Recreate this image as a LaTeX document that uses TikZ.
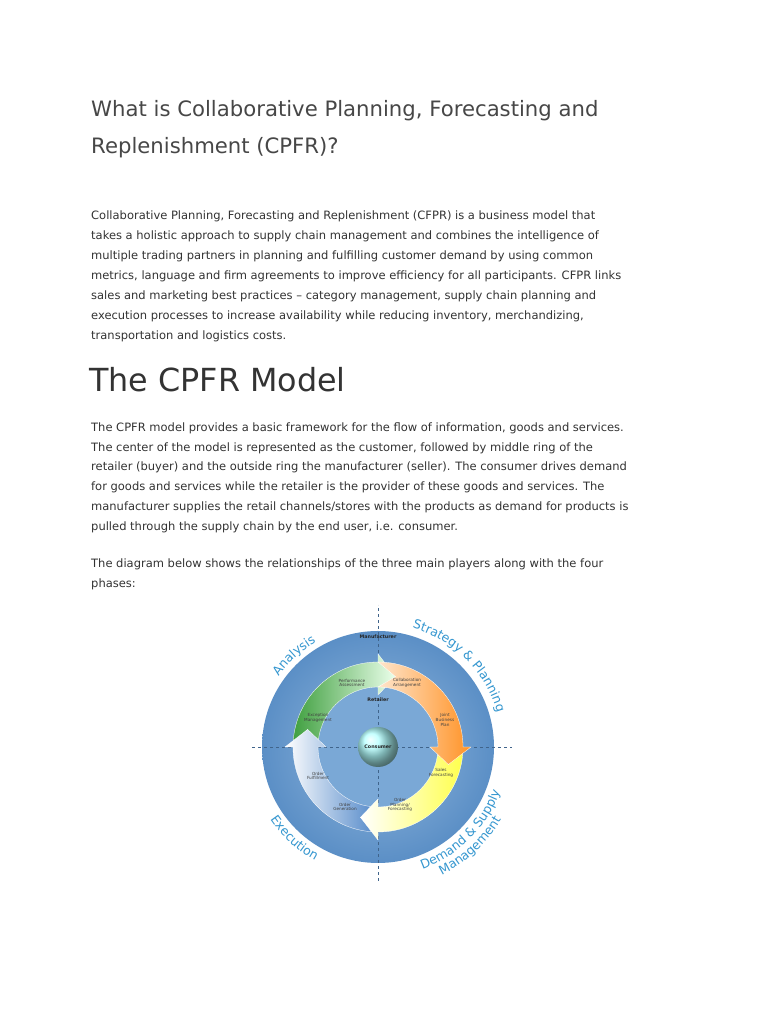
\documentclass[tikz,border=0pt]{standalone}
\usepackage{fontspec}
\setmainfont{DejaVu Sans}
\usetikzlibrary{decorations.text}
\definecolor{txt}{HTML}{333333}
\definecolor{outerb}{HTML}{5B8FC6}
\definecolor{innerb}{HTML}{7AA8D6}
\definecolor{lbl}{HTML}{3597D0}
\definecolor{segblue}{HTML}{4F86C8}
\tikzset{
  body/.style={anchor=west,inner sep=0pt,text=txt,font=\fontsize{11.5}{13}\selectfont},
  ttl/.style={anchor=west,inner sep=0pt,text=txt!90,font=\fontsize{21.2}{24}\selectfont},
  small/.style={align=center,inner sep=0pt,text=black!75,font=\fontsize{4.2}{4.6}\selectfont},
  role/.style={inner sep=0pt,text=black!85,font=\bfseries\fontsize{4.8}{5}\selectfont},
}
\newcommand{\ringseg}[4]{% start, end, color1, color2
  \shade[left color=#3,right color=#4,draw=white!60,line width=0.3pt]
   (#1:60) arc[start angle=#1,end angle=#2,radius=60] -- (#2:52) -- ({#2-14}:72.5) -- (#2:93)
   -- (#2:85) arc[start angle=#2,end angle=#1,radius=85] -- ({#1-14}:72.5) -- cycle;}
\begin{document}
\begin{tikzpicture}[x=1pt,y=1pt]
\useasboundingbox (0,0) rectangle (768,1024);
\fill[white] (0,0) rectangle (768,1024);
\node[ttl] (t1) at (91,913) {What is Collaborative Planning, Forecasting and};
\node[ttl] (t2) at (91,876) {Replenishment (CPFR)?};
\node[body] (p1) at (91,808) {Collaborative Planning, Forecasting and Replenishment (CFPR) is a business model that};
\node[body] (p2) at (91,788) {takes a holistic approach to supply chain management and combines the intelligence of};
\node[body] (p3) at (91,768) {multiple trading partners in planning and fulfilling customer demand by using common};
\node[body] (p4) at (91,748) {metrics, language and firm agreements to improve efficiency for all participants. CFPR links};
\node[body] (p5) at (91,728) {sales and marketing best practices – category management, supply chain planning and};
\node[body] (p6) at (91,708) {execution processes to increase availability while reducing inventory, merchandizing,};
\node[body] (p7) at (91,688) {transportation and logistics costs.};
\node[anchor=west,inner sep=0pt,text=txt,font=\fontsize{31.8}{36}\selectfont] (h) at (89,644) {The CPFR Model};
\node[body] (q1) at (91,596) {The CPFR model provides a basic framework for the flow of information, goods and services.};
\node[body] (q2) at (91,576) {The center of the model is represented as the customer, followed by middle ring of the};
\node[body] (q3) at (91,557) {retailer (buyer) and the outside ring the manufacturer (seller). The consumer drives demand};
\node[body] (q4) at (91,537) {for goods and services while the retailer is the provider of these goods and services. The};
\node[body] (q5) at (91,517) {manufacturer supplies the retail channels/stores with the products as demand for products is};
\node[body] (q6) at (91,497) {pulled through the supply chain by the end user, i.e. consumer.};
\node[body] (r1) at (91,460) {The diagram below shows the relationships of the three main players along with the four};
\node[body] (r2) at (91,440) {phases:};
\begin{scope}[shift={(378,277)}]
  \shade[inner color=innerb!80,outer color=outerb] (0,0) circle (116);
  \fill[innerb] (0,0) circle (62);
  \draw[dashed,outerb!70!black,line width=0.5pt] (-126,0) -- (134,0);
  \draw[dashed,outerb!70!black,line width=0.5pt] (0,-134) -- (0,142);
  \ringseg{180}{90}{green!50!black!75}{green!8!white}
  \ringseg{-90}{-180}{white}{segblue}
  \ringseg{0}{-90}{white}{yellow!70!white}
  \ringseg{90}{0}{orange!20!white}{orange!85}
  \shade[ball color=cyan!30!white] (0,0) circle (20);
  \node[role] (cons) at (0,0) {Consumer};
  \node[role] (man) at (0,110) {Manufacturer};
  \node[role] (ret) at (0,47) {Retailer};
  \node[small] (pa) at (-26,64) {Performance\\Assessment};
  \node[small] (ca) at (29,64) {Collaboration\\Arrangement};
  \node[small] (em) at (-60,29) {Exception\\Management};
  \node[small] (jb) at (67,27) {Joint\\Business\\Plan};
  \node[small] (sf) at (63,-26) {Sales\\Forecasting};
  \node[small] (op) at (22,-58) {Order\\Planning/\\Forecasting};
  \node[small] (og) at (-33,-60) {Order\\Generation};
  \node[small] (of) at (-60,-29) {Order\\Fulfillment};
  \path[decorate,decoration={text along path,text align=center,
    text={|\fontsize{12.5}{13}\selectfont\color{lbl}|Analysis}}]
    (150:122) arc[start angle=150,end angle=115,radius=122];
  \path[decorate,decoration={text along path,text align=center,
    text={|\fontsize{12.5}{13}\selectfont\color{lbl}|Strategy {\&} Planning}}]
    (82:124) arc[start angle=82,end angle=8,radius=124];
  \path[decorate,decoration={text along path,text align=center,
    text={|\fontsize{12.5}{13}\selectfont\color{lbl}|Execution}}]
    (-155:130) arc[start angle=-155,end angle=-110,radius=130];
  \path[decorate,decoration={text along path,text align=center,
    text={|\fontsize{12.5}{13}\selectfont\color{lbl}|Demand {\&} Supply}}]
    (-76:130) arc[start angle=-76,end angle=-14,radius=130];
  \path[decorate,decoration={text along path,text align=center,
    text={|\fontsize{12.5}{13}\selectfont\color{lbl}|Management}}]
    (-66:143) arc[start angle=-66,end angle=-28,radius=143];
\end{scope}
\end{tikzpicture}
\end{document}
